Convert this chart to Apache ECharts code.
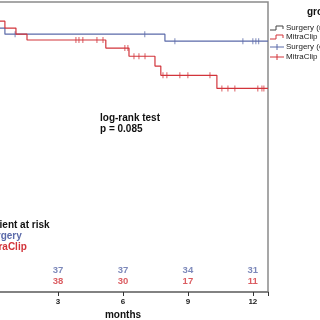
<!DOCTYPE html>
<html>
<head>
<meta charset="utf-8">
<script src="https://cdn.jsdelivr.net/npm/echarts@6/dist/echarts.min.js"></script>
<style>
  html, body { margin: 0; padding: 0; background: #fff; }
  #chart { width: 320px; height: 320px; }
</style>
</head>
<body>
<div id="chart"></div>
<script>
// months on the x axis
const monthTicks = [0, 3, 6, 9, 12];
const followUpEnd = 12.7;

// Kaplan-Meier steps (time in months, survival after the event)
const surgeryTimes = [0, 0.1, 0.55, 7.94];
const surgerySurv = [1, 0.91, 0.889, 0.865];
const mitraTimes = [0, 0.1, 0.55, 1.06, 1.57, 5.21, 6.28, 7.48, 7.75, 10.34];
const mitraSurv = [1, 0.934, 0.91, 0.889, 0.869, 0.841, 0.813, 0.779, 0.747, 0.702];

// censored observations
const surgeryCensored = [1.02, 7.01, 8.40, 11.54, 12.0, 12.14, 12.27];
const mitraCensored = [3.83, 3.97, 4.15, 4.80, 5.08, 6.09, 6.23, 6.51, 6.74, 7.02,
  7.85, 8.03, 8.63, 9.00, 10.02, 10.57, 10.85, 11.17, 12.23, 12.42, 12.51];

// patients at risk
const riskTimes = [3, 6, 9, 12];
const riskSurgery = [37, 37, 34, 31];
const riskMitra = [38, 30, 17, 11];

const blue = '#5b6aa9';
const red = '#d2343b';
const font = 'Liberation Sans, Arial, sans-serif';

function survAt (times, surv, t) {
  let s = surv[0];
  for (let i = 0; i < times.length; i++) {
    if (times[i] <= t) s = surv[i];
  }
  return s;
}

function stepData (times, surv) {
  const d = times.map((t, i) => [t, surv[i]]);
  d.push([followUpEnd, surv[surv.length - 1]]);
  return d;
}

function censorData (cens, times, surv) {
  return cens.map(t => [t, survAt(times, surv, t)]);
}

function riskData (counts, level) {
  return riskTimes.map((t, i) => [t, level, counts[i]]);
}

const chart = echarts.init(document.getElementById('chart'));

const stepIcon = (y, color) => ({
  type: 'polyline',
  shape: { points: [[270, y + 2], [276, y + 2], [276, y - 2], [283, y - 2], [283, y + 1]] },
  style: { stroke: color, fill: null, lineWidth: 1 }
});
const censorIcon = (y, color) => ({
  type: 'group',
  children: [
    { type: 'line', shape: { x1: 270, y1: y, x2: 284, y2: y }, style: { stroke: color, lineWidth: 1 } },
    { type: 'line', shape: { x1: 277, y1: y - 3, x2: 277, y2: y + 3 }, style: { stroke: color, lineWidth: 1 } }
  ]
});
const legendText = (y, text) => ({
  type: 'text', x: 286, y: y, style: { text: text, font: '8px ' + font, fill: '#222', textVerticalAlign: 'middle' }
});

chart.setOption({
  animation: false,
  grid: {
    left: -7, right: 52, top: 2, bottom: 28,
    outerBoundsMode: 'none', containLabel: false,
    show: true, borderColor: '#8a8a8a', borderWidth: 1.5, backgroundColor: '#fff'
  },
  xAxis: {
    type: 'value', min: 0, max: followUpEnd, interval: 3,
    axisLine: { show: true, lineStyle: { color: '#777', width: 1.5 } },
    axisTick: { show: true, length: 4, lineStyle: { color: '#333' } },
    axisLabel: {
      margin: 6, color: '#222', fontSize: 8, fontWeight: 'bold', fontFamily: font,
      formatter: v => (monthTicks.indexOf(v) >= 0 ? String(v) : '')
    },
    splitLine: { show: false }
  },
  yAxis: {
    type: 'value', min: 0, max: 1,
    axisLine: { show: false }, axisTick: { show: false }, axisLabel: { show: false },
    splitLine: { show: false }
  },
  series: [
    {
      name: 'Surgery', type: 'line', step: 'end', symbol: 'none',
      data: stepData(surgeryTimes, surgerySurv),
      lineStyle: { color: blue, width: 1.2 }
    },
    {
      name: 'MitraClip', type: 'line', step: 'end', symbol: 'none',
      data: stepData(mitraTimes, mitraSurv),
      lineStyle: { color: red, width: 1.2 }
    },
    {
      name: 'Surgery censored', type: 'scatter', symbol: 'rect', symbolSize: [1, 6],
      data: censorData(surgeryCensored, surgeryTimes, surgerySurv),
      itemStyle: { color: blue }
    },
    {
      name: 'MitraClip censored', type: 'scatter', symbol: 'rect', symbolSize: [1, 6],
      data: censorData(mitraCensored, mitraTimes, mitraSurv),
      itemStyle: { color: red }
    },
    {
      type: 'scatter', symbolSize: 0, silent: true,
      data: riskData(riskSurgery, 0.076),
      label: {
        show: true, position: 'inside', formatter: p => p.data[2],
        color: blue, fontSize: 9.5, fontWeight: 'bold', fontFamily: font
      }
    },
    {
      type: 'scatter', symbolSize: 0, silent: true,
      data: riskData(riskMitra, 0.038),
      label: {
        show: true, position: 'inside', formatter: p => p.data[2],
        color: red, fontSize: 9.5, fontWeight: 'bold', fontFamily: font
      }
    }
  ],
  graphic: [
    { type: 'text', x: 100, y: 118, style: { text: 'log-rank test', font: 'bold 10px ' + font, fill: '#111', textVerticalAlign: 'middle' } },
    { type: 'text', x: 100, y: 129.5, style: { text: 'p = 0.085', font: 'bold 10px ' + font, fill: '#111', textVerticalAlign: 'middle' } },
    { type: 'text', x: -16, y: 225, style: { text: 'Patient at risk', font: 'bold 10px ' + font, fill: '#111', textVerticalAlign: 'middle' } },
    { type: 'text', x: -16, y: 236, style: { text: 'Surgery', font: 'bold 10px ' + font, fill: blue, textVerticalAlign: 'middle' } },
    { type: 'text', x: -16, y: 247.5, style: { text: 'MitraClip', font: 'bold 10px ' + font, fill: red, textVerticalAlign: 'middle' } },
    { type: 'text', x: 123, y: 315, style: { text: 'months', font: 'bold 10px ' + font, fill: '#111', textAlign: 'center', textVerticalAlign: 'middle' } },
    { type: 'text', x: 307, y: 12, style: { text: 'group', font: 'bold 10px ' + font, fill: '#111', textVerticalAlign: 'middle' } },
    stepIcon(28, '#444'),
    legendText(28, 'Surgery (n=41)'),
    stepIcon(37, red),
    legendText(37, 'MitraClip (n=41)'),
    censorIcon(47, blue),
    legendText(47, 'Surgery (censored)'),
    censorIcon(57, red),
    legendText(57, 'MitraClip (censored)')
  ]
});
</script>
</body>
</html>
